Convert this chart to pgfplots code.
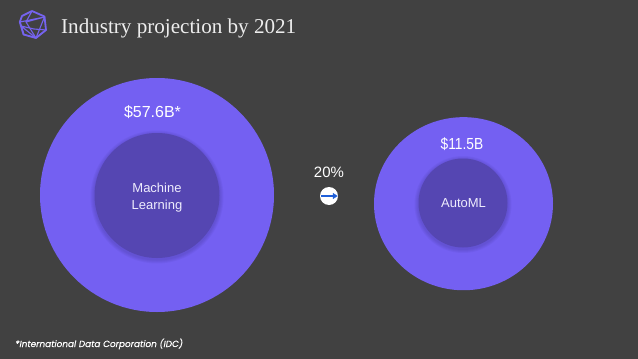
\documentclass[border=0pt]{standalone}
\usepackage{pgfplots}
\pgfplotsset{compat=1.18}
\usepackage{fontspec}
\setmainfont{Liberation Sans}
\newfontfamily\titlefont{Liberation Serif}
\newfontfamily\labelfont{Liberation Sans}
\newfontfamily\notefont[ItalicFeatures={FakeBold=0.25}]{Poppins}
\definecolor{bg}{HTML}{414141}
\definecolor{outer}{HTML}{7460F2}
\definecolor{inner}{HTML}{5546B2}
\definecolor{shadowc}{HTML}{2E2670}
\definecolor{logoc}{HTML}{7563EE}
\definecolor{arrowc}{HTML}{1F5FD8}
\pgfplotsset{base/.style={
  scale only axis, width=638pt, height=359pt,
  xmin=0, xmax=638, ymin=0, ymax=359, y dir=reverse,
  axis line style={draw=none}, ticks=none, clip=true}}
\begin{document}
\begin{tikzpicture}[x=1pt,y=1pt]
\begin{axis}[base, axis background/.style={fill=bg}]
% outer circles
\addplot[only marks, mark=*, mark size=117pt, mark options={draw opacity=0, fill=outer}] coordinates {(157,195)};
\addplot[only marks, mark=*, mark size=89.5pt, mark options={draw opacity=0, fill=outer, yscale=0.967}] coordinates {(463.5,203.7)};
% soft shadows
\pgfplotsinvokeforeach{66.5,65.5,64.5,63.5}{
  \addplot[only marks, mark=*, mark size=#1pt, mark options={draw opacity=0, fill=shadowc, fill opacity=0.06}] coordinates {(157,197)};
}
\pgfplotsinvokeforeach{48.5,47.5,46.5,45.5}{
  \addplot[only marks, mark=*, mark size=#1pt, mark options={draw opacity=0, fill=shadowc, fill opacity=0.06}] coordinates {(463,204.5)};
}
% inner circles
\addplot[only marks, mark=*, mark size=62.5pt, mark options={draw opacity=0, fill=inner}] coordinates {(157,195.5)};
\addplot[only marks, mark=*, mark size=44.5pt, mark options={draw opacity=0, fill=inner}] coordinates {(463,203)};
% arrow badge
\addplot[only marks, mark=*, mark size=9pt, mark options={draw opacity=0, fill=white}] coordinates {(329,196)};
\end{axis}
\begin{axis}[base]
\addplot[arrowc, line width=1.2pt, forget plot] coordinates {(320.5,196) (334,196)};
\addplot[arrowc, fill=arrowc, line width=0.2pt, forget plot] coordinates {(333,193.2) (337.5,196) (333,198.8) (333,193.2)};
% logo
\addplot[logoc, line width=1.8pt, line join=round] coordinates {(32,11) (44.5,16.5) (46,30) (36,38) (23.5,34.5) (19.8,22) (22,16) (32,11)};
\addplot[logoc, line width=1.1pt, line join=round] coordinates {(20,22) (44.5,17) (36,38) (26,22) (44.5,17)};
\addplot[logoc, line width=1.1pt, line join=round] coordinates {(20,22) (24,34.5) (36,38) (21,26) (34,29) (46,30)};
\addplot[logoc, line width=1.1pt, line join=round] coordinates {(32,11) (26,22)};
% text
\node[anchor=base west, text=white!93!black, font=\titlefont\fontsize{21.1}{21}\selectfont, inner sep=0pt] at (axis cs:61,33) {Industry projection by 2021};
\node[anchor=base, text=white, font=\labelfont\fontsize{16}{16}\selectfont, inner sep=0pt] at (axis cs:152.5,117) {\$57.6B*};
\node[anchor=base, text=white, xscale=0.86, font=\labelfont\fontsize{16}{16}\selectfont, inner sep=0pt] at (axis cs:462,149) {\$11.5B};
\node[anchor=base, text=white, font=\labelfont\fontsize{15}{15}\selectfont, inner sep=0pt] at (axis cs:329,177) {20\%};
\node[anchor=base, text=white!88!outer, font=\labelfont\fontsize{13}{13}\selectfont, inner sep=0pt] at (axis cs:157,192) {Machine};
\node[anchor=base, text=white!88!outer, font=\labelfont\fontsize{13}{13}\selectfont, inner sep=0pt] at (axis cs:157,209) {Learning};
\node[anchor=base, text=white!88!outer, font=\labelfont\fontsize{13}{13}\selectfont, inner sep=0pt] at (axis cs:463.5,207) {AutoML};
\node[anchor=base west, text=white, font=\notefont\itshape\fontsize{8.9}{9}\selectfont, inner sep=0pt] at (axis cs:15,347) {*International Data Corporation (IDC)};
\end{axis}
\end{tikzpicture}
\end{document}
